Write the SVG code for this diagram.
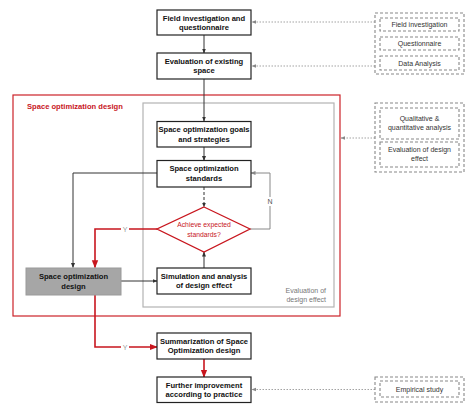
<svg xmlns="http://www.w3.org/2000/svg" width="474" height="410" viewBox="0 0 474 410">
<style>
.box{fill:#fff;stroke:#222;stroke-width:1.2}
.bt{font-family:"Liberation Sans",Arial,sans-serif;font-size:7.6px;font-weight:bold;fill:#111;text-anchor:middle}
.st{font-family:"Liberation Sans",Arial,sans-serif;font-size:7px;fill:#333;text-anchor:middle}
.dash{fill:#fff;stroke:#888;stroke-width:1.1;stroke-dasharray:3,2}
.k{fill:none;stroke:#333;stroke-width:1}
.r{fill:none;stroke:#c8161e;stroke-width:1.6}
.g{fill:none;stroke:#888;stroke-width:1}
.dot{fill:none;stroke:#999;stroke-width:0.9;stroke-dasharray:1.5,1.5}
</style>
<defs>
<marker id="ak" viewBox="0 0 10 10" refX="9" refY="5" markerWidth="5" markerHeight="5" orient="auto"><path d="M0,1 L10,5 L0,9 z" fill="#333"/></marker>
<marker id="ar" viewBox="0 0 10 10" refX="9" refY="5" markerWidth="5" markerHeight="5" orient="auto"><path d="M0,1 L10,5 L0,9 z" fill="#c8161e"/></marker>
<marker id="ag" viewBox="0 0 10 10" refX="9" refY="5" markerWidth="5" markerHeight="5" orient="auto"><path d="M0,1 L10,5 L0,9 z" fill="#888"/></marker>
</defs>

<g id="frame-red">
<rect x="13" y="95" width="327" height="221" fill="none" stroke="#cc2229" stroke-width="1.2"/>
<text x="27" y="109" font-family="Liberation Sans,Arial,sans-serif" font-size="7.6" font-weight="bold" fill="#c8161e">Space optimization design</text>
</g>
<g id="frame-grey">
<rect x="143" y="103" width="191" height="204" fill="none" stroke="#b3b3b3" stroke-width="1.2"/>
<text x="326" y="293" font-family="Liberation Sans,Arial,sans-serif" font-size="7" fill="#777" text-anchor="end">Evaluation of</text>
<text x="326" y="302" font-family="Liberation Sans,Arial,sans-serif" font-size="7" fill="#777" text-anchor="end">design effect</text>
</g>

<g id="connectors">
<line class="k" x1="204" y1="35" x2="204" y2="53" marker-end="url(#ak)"/>
<line class="k" x1="204" y1="79" x2="204" y2="121" marker-end="url(#ak)"/>
<line class="k" x1="204" y1="147" x2="204" y2="160.5" marker-end="url(#ak)"/>
<line class="k" x1="204" y1="187" x2="204" y2="207" stroke-dasharray="3,2" marker-end="url(#ak)"/>
<polyline class="k" points="157,173 73,173 73,267.5" marker-end="url(#ak)"/>
<line class="k" x1="121" y1="281" x2="157" y2="281" marker-end="url(#ak)"/>
<line class="k" x1="204" y1="268" x2="204" y2="252" marker-end="url(#ak)"/>
<polyline class="g" points="250,229 270,229 270,173 251,173" marker-end="url(#ag)"/>
<rect x="266" y="197" width="8" height="9" fill="#fff"/>
<text x="270" y="204" font-family="Liberation Sans,Arial,sans-serif" font-size="7" fill="#555" text-anchor="middle">N</text>
<polyline class="r" points="157,229 95,229 95,267.5" marker-end="url(#ar)"/>
<rect x="121" y="224" width="8" height="9" fill="#fff"/>
<text x="125" y="231.5" font-family="Liberation Sans,Arial,sans-serif" font-size="7" fill="#999" text-anchor="middle">Y</text>
<polyline class="r" points="95,295 95,347 157,347" marker-end="url(#ar)"/>
<rect x="121" y="342" width="8" height="9" fill="#fff"/>
<text x="125" y="349.5" font-family="Liberation Sans,Arial,sans-serif" font-size="7" fill="#999" text-anchor="middle">Y</text>
<line class="r" x1="204" y1="359" x2="204" y2="377" marker-end="url(#ar)"/>
<line class="dot" x1="375" y1="22" x2="252" y2="22" marker-end="url(#ag)"/>
<line class="dot" x1="375" y1="66" x2="252" y2="66" marker-end="url(#ag)"/>
<line class="dot" x1="375" y1="138" x2="341" y2="138" marker-end="url(#ag)"/>
<line class="dot" x1="375" y1="389.5" x2="252" y2="389.5" marker-end="url(#ag)"/>
</g>

<g id="n-field">
<rect class="box" x="157" y="10" width="94" height="25"/>
<text class="bt" x="204" y="20.5">Field investigation and</text>
<text class="bt" x="204" y="30">questionnaire</text>
</g>
<g id="n-eval">
<rect class="box" x="157" y="53" width="94" height="26"/>
<text class="bt" x="204" y="63.5">Evaluation of existing</text>
<text class="bt" x="204" y="73">space</text>
</g>
<g id="n-goals">
<rect class="box" x="157" y="121.5" width="94" height="25.5"/>
<text class="bt" x="204" y="132">Space optimization goals</text>
<text class="bt" x="204" y="141.5">and strategies</text>
</g>
<g id="n-standards">
<rect class="box" x="157" y="160.5" width="94" height="26.5"/>
<text class="bt" x="204" y="171">Space optimization</text>
<text class="bt" x="204" y="180.5">standards</text>
</g>
<g id="n-achieve">
<polygon points="204,207 250,229 204,252 157,229" fill="#fff" stroke="#c8161e" stroke-width="1.3"/>
<text x="204" y="227" font-family="Liberation Sans,Arial,sans-serif" font-size="6.8" fill="#c8161e" text-anchor="middle">Achieve expected</text>
<text x="204" y="236.5" font-family="Liberation Sans,Arial,sans-serif" font-size="6.8" fill="#c8161e" text-anchor="middle">standards?</text>
</g>
<g id="n-design">
<rect x="26" y="268" width="95" height="27" fill="#a6a6a6" stroke="#9a9a9a" stroke-width="1"/>
<text class="bt" x="73.5" y="279">Space optimization</text>
<text class="bt" x="73.5" y="288.5">design</text>
</g>
<g id="n-sim">
<rect class="box" x="157" y="268" width="94" height="26"/>
<text class="bt" x="204" y="278.5">Simulation and analysis</text>
<text class="bt" x="204" y="288">of design effect</text>
</g>
<g id="n-summ">
<rect class="box" x="157" y="333" width="94" height="26"/>
<text class="bt" x="204" y="343.5">Summarization of Space</text>
<text class="bt" x="204" y="353">Optimization design</text>
</g>
<g id="n-further">
<rect class="box" x="157" y="377" width="94" height="25.5"/>
<text class="bt" x="204" y="387.5">Further improvement</text>
<text class="bt" x="204" y="397">according to practice</text>
</g>

<g id="s-group1">
<rect class="dash" x="375" y="13" width="89" height="61"/>
<rect class="dash" x="380" y="18" width="79" height="13"/>
<text class="st" x="419.5" y="27">Field investigation</text>
<rect class="dash" x="380" y="37" width="79" height="13"/>
<text class="st" x="419.5" y="46">Questionnaire</text>
<rect class="dash" x="380" y="56" width="79" height="14"/>
<text class="st" x="419.5" y="65.5">Data Analysis</text>
</g>
<g id="s-group2">
<rect class="dash" x="375" y="103" width="89" height="69"/>
<rect class="dash" x="380" y="108" width="79" height="31"/>
<text class="st" x="419.5" y="121">Qualitative &amp;</text>
<text class="st" x="419.5" y="130">quantitative analysis</text>
<rect class="dash" x="380" y="142" width="79" height="25"/>
<text class="st" x="419.5" y="152">Evaluation of design</text>
<text class="st" x="419.5" y="161">effect</text>
</g>
<g id="s-group3">
<rect class="dash" x="375" y="377" width="89" height="25"/>
<rect class="dash" x="380" y="381" width="79" height="16"/>
<text class="st" x="419.5" y="391.5">Empirical study</text>
</g>
</svg>
